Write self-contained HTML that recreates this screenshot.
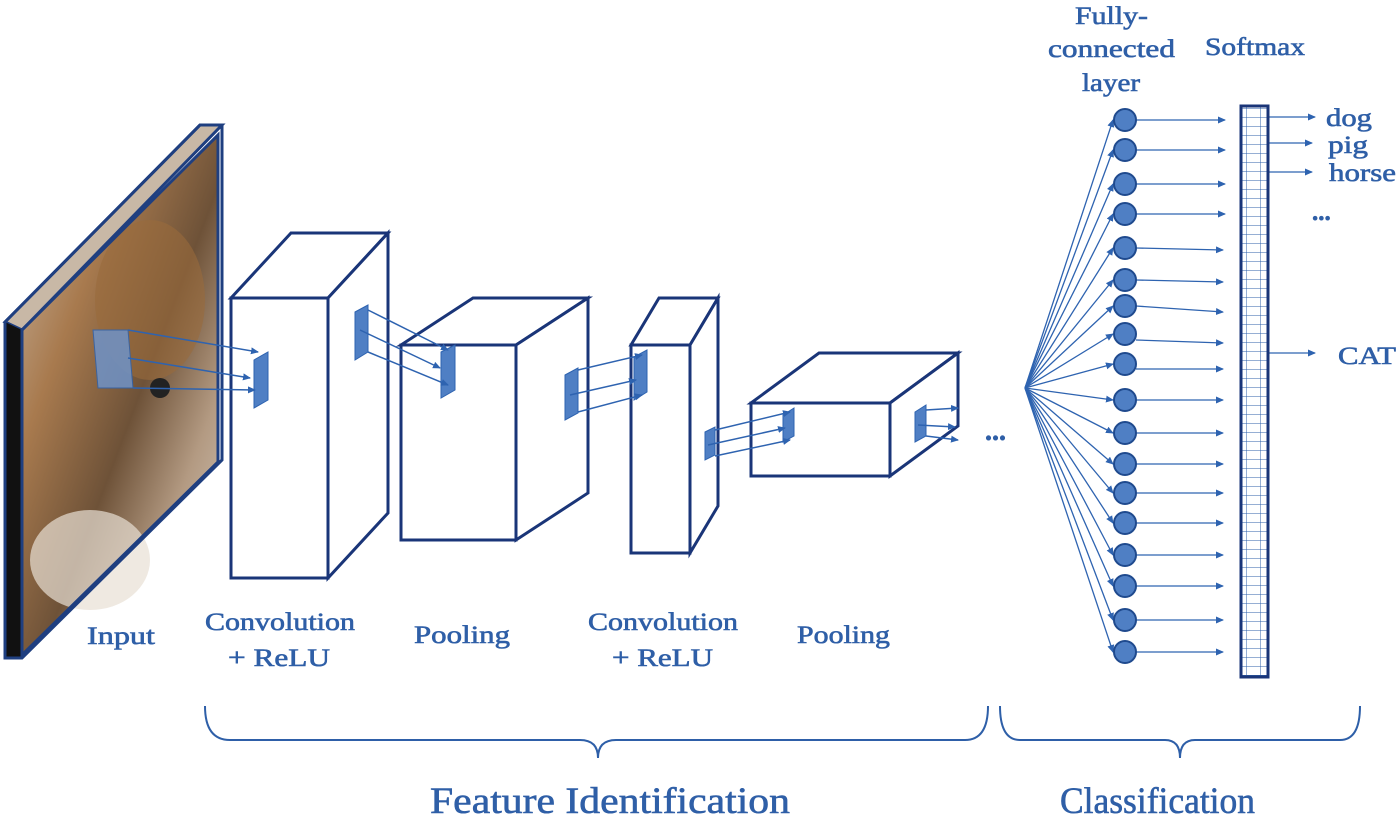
<!DOCTYPE html>
<html><head><meta charset="utf-8"><style>
html,body{margin:0;padding:0;background:#fff;}
svg{display:block;}
text{font-family:"Liberation Serif",serif;fill:#2f5fa7;stroke:#2f5fa7;stroke-width:0.6;}
</style></head><body>
<svg width="1400" height="818" viewBox="0 0 1400 818" xmlns="http://www.w3.org/2000/svg">
<defs>
<marker id="ah" markerWidth="8" markerHeight="8" refX="7" refY="4" orient="auto" markerUnits="userSpaceOnUse"><path d="M0,0.5 L8,4 L0,7.5 z" fill="#2e63b0"/></marker>
<linearGradient id="cat" x1="0" y1="0" x2="1" y2="1">
<stop offset="0" stop-color="#c9b9a8"/><stop offset="0.3" stop-color="#a87a4e"/><stop offset="0.55" stop-color="#6e5238"/><stop offset="0.75" stop-color="#b39a82"/><stop offset="1" stop-color="#d8cfc3"/>
</linearGradient>
<pattern id="grid" width="14" height="9" patternUnits="userSpaceOnUse"><path d="M14,0 L0,0 0,9" fill="none" stroke="#2e5fa8" stroke-width="1"/></pattern>
</defs>

<polygon points="5,322 200,125 222,125 22,330" fill="#c8b8a6" stroke="#1f3f80" stroke-width="3"/>
<polygon points="5,322 22,330 22,658 5,658" fill="#111"/>
<polygon points="22,330 218,135 218,462 22,655" fill="url(#cat)"/>
<ellipse cx="150" cy="300" rx="55" ry="80" fill="#9a6a3c" opacity="0.6"/>
<ellipse cx="90" cy="560" rx="60" ry="50" fill="#e8e0d4" opacity="0.7"/>
<circle cx="160" cy="388" r="10" fill="#222"/>
<polygon points="22,330 218,135 218,462 22,655" fill="none" stroke="#1f3f80" stroke-width="3"/>
<polygon points="5,322 200,125 222,125 222,460 22,658 5,658" fill="none" stroke="#1f3f80" stroke-width="3"/>
<polygon points="93,330 128,330 133,388 98,388" fill="#6f93c8" opacity="0.85" stroke="#2e63b0"/>

<g fill="#fff" stroke="#1a3578" stroke-width="3">
<polygon points="231,298 291,233 388,233 328,298"/>
<polygon points="328,298 388,233 388,513 328,578"/>
<rect x="231" y="298" width="97" height="280"/>
<polygon points="401,345 473,298 588,298 516,345"/>
<polygon points="516,345 588,298 588,493 516,540"/>
<rect x="401" y="345" width="115" height="195"/>
<polygon points="631,345 659,298 718,298 690,345"/>
<polygon points="690,345 718,298 718,506 690,553"/>
<rect x="631" y="345" width="59" height="208"/>
<polygon points="751,403 819,353 958,353 890,403"/>
<polygon points="890,403 958,353 958,426 890,476"/>
<rect x="751" y="403" width="139" height="73"/>
</g>

<g fill="#4f7fc4" stroke="#2e63b0" stroke-width="1">
<polygon points="254,360 268,352 268,400 254,408"/>
<polygon points="355,312 368,305 368,352 355,360"/>
<polygon points="441,352 455,345 455,390 441,398"/>
<polygon points="565,375 578,368 578,413 565,420"/>
<polygon points="634,357 647,350 647,392 634,400"/>
<polygon points="705,432 715,427 715,455 705,460"/>
<polygon points="783,415 794,408 794,436 783,442"/>
<polygon points="915,412 926,405 926,436 915,442"/>
</g>
<g stroke="#2e63b0" stroke-width="1.5" fill="none" marker-end="url(#ah)">
<line x1="128" y1="330" x2="258" y2="352"/>
<line x1="128" y1="358" x2="250" y2="378"/>
<line x1="133" y1="388" x2="255" y2="390"/>
<line x1="368" y1="310" x2="448" y2="350"/>
<line x1="360" y1="330" x2="440" y2="368"/>
<line x1="368" y1="352" x2="448" y2="385"/>
<line x1="578" y1="370" x2="642" y2="355"/>
<line x1="570" y1="395" x2="636" y2="380"/>
<line x1="578" y1="412" x2="642" y2="395"/>
<line x1="715" y1="430" x2="790" y2="412"/>
<line x1="708" y1="445" x2="785" y2="428"/>
<line x1="715" y1="456" x2="790" y2="440"/>
<line x1="926" y1="410" x2="958" y2="408"/>
<line x1="918" y1="425" x2="955" y2="427"/>
<line x1="926" y1="436" x2="958" y2="440"/>
</g>
<text x="985" y="440" font-size="28" font-weight="bold">...</text>

<g stroke="#2e63b0" stroke-width="1.3" fill="none" marker-end="url(#ah)">
<line x1="1025" y1="388" x2="1113" y2="120"/>
<line x1="1025" y1="388" x2="1113" y2="150"/>
<line x1="1025" y1="388" x2="1113" y2="184"/>
<line x1="1025" y1="388" x2="1113" y2="214"/>
<line x1="1025" y1="388" x2="1113" y2="248"/>
<line x1="1025" y1="388" x2="1113" y2="280"/>
<line x1="1025" y1="388" x2="1113" y2="306"/>
<line x1="1025" y1="388" x2="1113" y2="334"/>
<line x1="1025" y1="388" x2="1113" y2="364"/>
<line x1="1025" y1="388" x2="1113" y2="400"/>
<line x1="1025" y1="388" x2="1113" y2="433"/>
<line x1="1025" y1="388" x2="1113" y2="464"/>
<line x1="1025" y1="388" x2="1113" y2="493"/>
<line x1="1025" y1="388" x2="1113" y2="523"/>
<line x1="1025" y1="388" x2="1113" y2="555"/>
<line x1="1025" y1="388" x2="1113" y2="586"/>
<line x1="1025" y1="388" x2="1113" y2="620"/>
<line x1="1025" y1="388" x2="1113" y2="652"/>
<line x1="1136" y1="120" x2="1225" y2="120"/>
<line x1="1136" y1="150" x2="1225" y2="150"/>
<line x1="1136" y1="184" x2="1225" y2="184"/>
<line x1="1136" y1="214" x2="1225" y2="214"/>
<line x1="1136" y1="248" x2="1223" y2="250"/>
<line x1="1136" y1="280" x2="1223" y2="282"/>
<line x1="1136" y1="306" x2="1223" y2="312"/>
<line x1="1136" y1="340" x2="1223" y2="343"/>
<line x1="1136" y1="369" x2="1223" y2="369"/>
<line x1="1136" y1="400" x2="1223" y2="400"/>
<line x1="1136" y1="433" x2="1223" y2="433"/>
<line x1="1136" y1="464" x2="1223" y2="464"/>
<line x1="1136" y1="493" x2="1223" y2="493"/>
<line x1="1136" y1="523" x2="1223" y2="523"/>
<line x1="1136" y1="555" x2="1223" y2="555"/>
<line x1="1136" y1="586" x2="1223" y2="586"/>
<line x1="1136" y1="620" x2="1223" y2="620"/>
<line x1="1136" y1="652" x2="1223" y2="652"/>
<line x1="1268" y1="117" x2="1315" y2="117"/>
<line x1="1268" y1="143" x2="1312" y2="143"/>
<line x1="1268" y1="172" x2="1312" y2="172"/>
<line x1="1268" y1="353" x2="1315" y2="353"/>
</g>
<g fill="#4f7fc4" stroke="#1f4a8e" stroke-width="2">
<circle cx="1125" cy="120" r="11"/><circle cx="1125" cy="150" r="11"/><circle cx="1125" cy="184" r="11"/><circle cx="1125" cy="214" r="11"/>
<circle cx="1125" cy="248" r="11"/><circle cx="1125" cy="280" r="11"/><circle cx="1125" cy="306" r="11"/><circle cx="1125" cy="334" r="11"/>
<circle cx="1125" cy="364" r="11"/><circle cx="1125" cy="400" r="11"/><circle cx="1125" cy="433" r="11"/><circle cx="1125" cy="464" r="11"/>
<circle cx="1125" cy="493" r="11"/><circle cx="1125" cy="523" r="11"/><circle cx="1125" cy="555" r="11"/><circle cx="1125" cy="586" r="11"/>
<circle cx="1125" cy="620" r="11"/><circle cx="1125" cy="652" r="11"/>
</g>
<rect x="1241" y="106" width="27" height="571" fill="url(#grid)" stroke="#1a3578" stroke-width="3"/>

<g font-size="25">
<text x="1075" y="24" textLength="73" lengthAdjust="spacingAndGlyphs">Fully-</text>
<text x="1048" y="57" textLength="127" lengthAdjust="spacingAndGlyphs">connected</text>
<text x="1082" y="91" textLength="58" lengthAdjust="spacingAndGlyphs">layer</text>
<text x="1205" y="55" textLength="100" lengthAdjust="spacingAndGlyphs">Softmax</text>
<text x="1326" y="126" textLength="46" lengthAdjust="spacingAndGlyphs">dog</text>
<text x="1328" y="153" textLength="40" lengthAdjust="spacingAndGlyphs">pig</text>
<text x="1329" y="181" textLength="67" lengthAdjust="spacingAndGlyphs">horse</text>
<text x="1312" y="220" font-weight="bold">...</text>
<text x="1338" y="364" textLength="58" lengthAdjust="spacingAndGlyphs">CAT</text>
<text x="87" y="644" textLength="68" lengthAdjust="spacingAndGlyphs">Input</text>
<text x="205" y="630" textLength="150" lengthAdjust="spacingAndGlyphs">Convolution</text>
<text x="228" y="666" textLength="102" lengthAdjust="spacingAndGlyphs">+ ReLU</text>
<text x="414" y="643" textLength="96" lengthAdjust="spacingAndGlyphs">Pooling</text>
<text x="588" y="630" textLength="150" lengthAdjust="spacingAndGlyphs">Convolution</text>
<text x="612" y="666" textLength="101" lengthAdjust="spacingAndGlyphs">+ ReLU</text>
<text x="797" y="643" textLength="93" lengthAdjust="spacingAndGlyphs">Pooling</text>
</g>
<g stroke="#2e5fa8" stroke-width="2" fill="none">
<path d="M205,706 Q205,740 230,740 L580,740 Q598,740 598,758 Q598,740 616,740 L965,740 Q988,740 988,706"/>
<path d="M1000,706 Q1000,740 1020,740 L1165,740 Q1180,740 1180,758 Q1180,740 1195,740 L1340,740 Q1360,740 1360,706"/>
</g>
<text x="430" y="813" font-size="37" textLength="360" lengthAdjust="spacingAndGlyphs">Feature Identification</text>
<text x="1060" y="813" font-size="37" textLength="195" lengthAdjust="spacingAndGlyphs">Classification</text>
</svg>
</body></html>
